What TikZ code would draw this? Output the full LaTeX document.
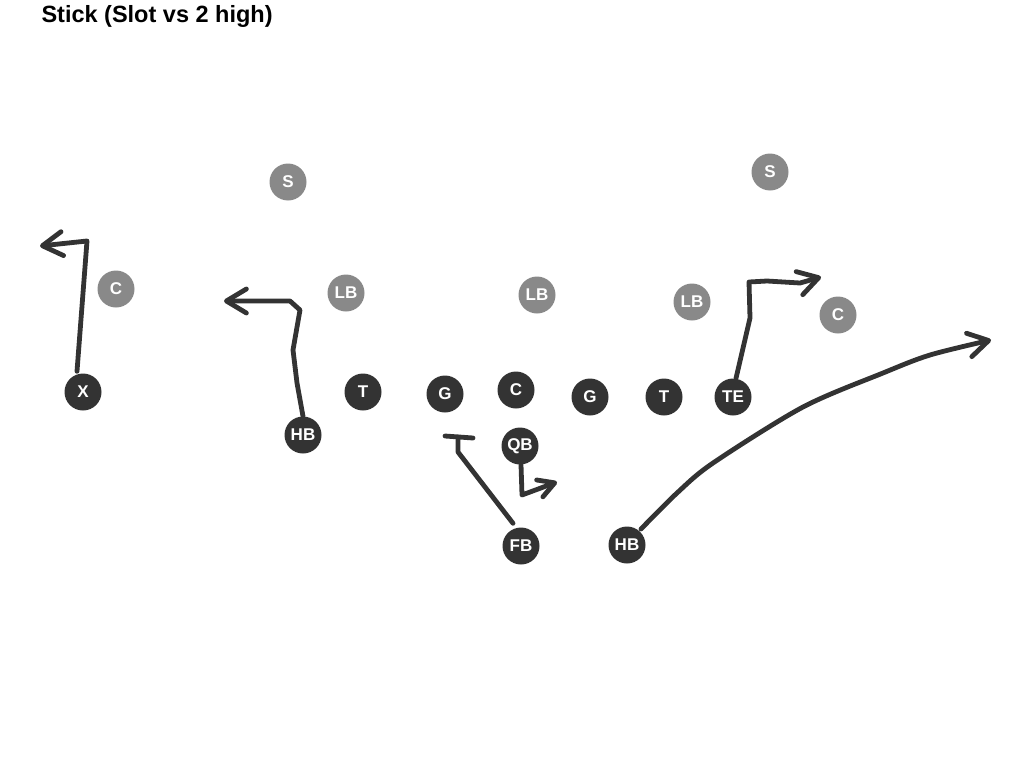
\documentclass[tikz,border=0pt]{standalone}
\usepackage{fontspec}
\setmainfont{Liberation Sans}
\usetikzlibrary{arrows.meta}
\definecolor{off}{HTML}{333333}
\definecolor{def}{HTML}{898989}
\definecolor{route}{HTML}{333333}
\begin{document}
\begin{tikzpicture}[x=1pt,y=-1pt,
  player/.style={circle,inner sep=0pt,minimum size=37pt,text=white,font=\fontsize{17}{17}\selectfont\bfseries},
  offp/.style={player,fill=off},
  defp/.style={player,fill=def},
  rt/.style={draw=route,line width=4.8pt,line join=round,line cap=round},
  arr/.style={rt,-{Straight Barb[length=20pt,width=24pt,line cap=round,line join=round]}},
  sarr/.style={rt,-{Straight Barb[length=16pt,width=18pt,line cap=round,line join=round]}}]
\useasboundingbox (0,0) rectangle (1024,768);
\node[anchor=west,font=\fontsize{23.5}{23.5}\selectfont\bfseries] (title) at (38,16) {Stick (Slot vs 2 high)};
% defense
\node[defp] (s1) at (288,182) {S};
\node[defp] (s2) at (770,172) {S};
\node[defp] (c1) at (116,289) {C};
\node[defp] (lb1) at (346,293) {LB};
\node[defp] (lb2) at (537,295) {LB};
\node[defp] (lb3) at (692,302) {LB};
\node[defp] (c2) at (838,315) {C};
% offense
\node[offp] (x) at (83,392) {X};
\node[offp] (hb1) at (303,435) {HB};
\node[offp] (lt) at (363,392) {T};
\node[offp] (lg) at (445,394) {G};
\node[offp] (ce) at (516,390) {C};
\node[offp] (rg) at (590,397) {G};
\node[offp] (rtk) at (664,397) {T};
\node[offp] (te) at (733,397) {TE};
\node[offp] (qb) at (520,446) {QB};
\node[offp] (fb) at (521,546) {FB};
\node[offp] (hb2) at (627,545) {HB};
% route end points
\coordinate (xe) at (40,246);
\coordinate (hb1e) at (224,301);
\coordinate (fbk) at (458,437);
\coordinate (fbl) at (445,436);
\coordinate (fbr) at (473,438);
\coordinate (qbe) at (557,482);
\coordinate (tee) at (821,277);
\coordinate (hb2e) at (991,340);
% routes
\draw[arr] (x.north) ++(-6,-2) -- (87,241) -- (xe);
\draw[arr] (hb1.north) -- (297,383) -- (293,350) -- (300,310) -- (290,301) -- (hb1e);
\draw[rt] (fb.north) ++(-8,-4) -- (458,452) -- (fbk);
\draw[rt] (fbl) -- (fbr);
\draw[sarr] (qb.south) ++(1,0) -- (522,495) -- (qbe);
\draw[arr] (te.north) ++(3,0) -- (750,318) -- (749,282) -- (767,281) -- (800,283) -- (tee);
\draw[arr] plot[smooth,tension=0.5] coordinates {(641,529) (677,493) (713,463) (803,407) (883,373) (930,355) (hb2e)};
\end{tikzpicture}
\end{document}
